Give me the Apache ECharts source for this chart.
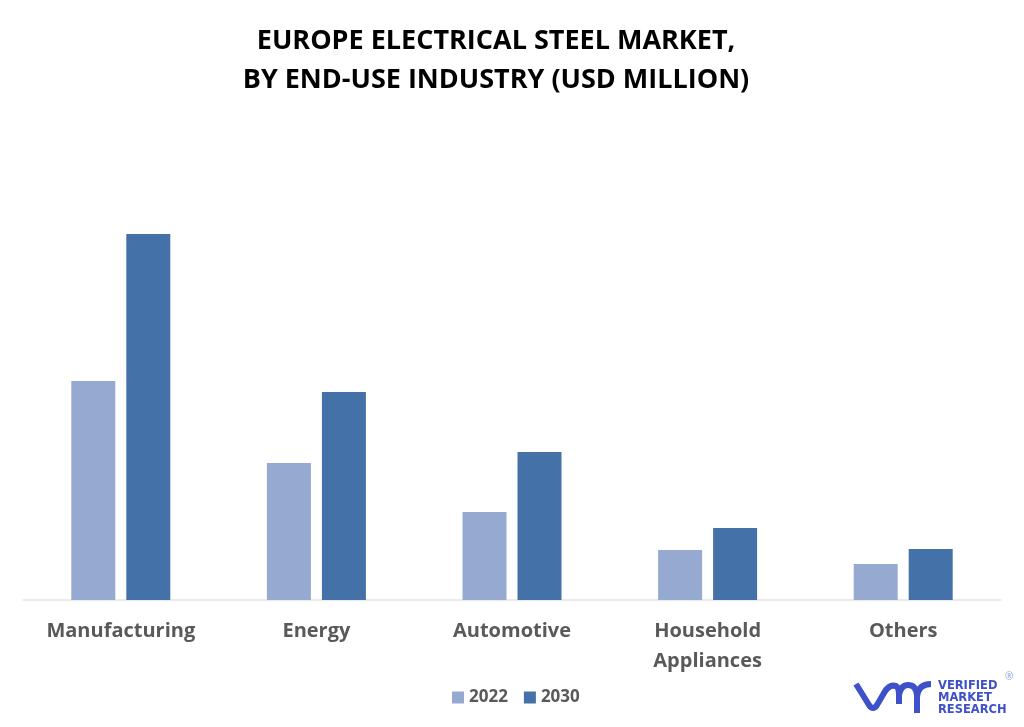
<!DOCTYPE html>
<html>
<head>
<meta charset="utf-8">
<style>
  html, body { margin: 0; padding: 0; background: #fff; }
  #chart { width: 1024px; height: 727px; }
</style>
<script src="https://cdn.jsdelivr.net/npm/echarts@6/dist/echarts.min.js"></script>
</head>
<body>
<div id="chart"></div>
<script>
// data
let categories = ["Manufacturing", "Energy", "Automotive", "Household\nAppliances", "Others"];
let values2022 = [219, 137, 88, 50, 36];
let values2030 = [366, 208, 148, 72, 51];
let seriesNames = ["2022", "2030"];

let font = "Open Sans";
let textColor = "#595959";
let logoColor = "#3f51c9";

// the vmr mark has no built-in graphic type, so register it as a shape
echarts.graphic.registerShape(
  "vmrLogo",
  echarts.graphic.extendPath(
    "M856 684 L869 705 Q873 711 877 705 L884 693 Q889 684 896 686 Q899 688 899 695 L899 704 M899 695 Q901 685 908 685 Q916 685 917 695 L917 713 M917 697 Q918 684 931 684"
  )
);

let myChart = echarts.init(document.querySelector("#chart"));

let option = {
  animation: false,
  backgroundColor: "#fff",
  title: {
    text: "EUROPE ELECTRICAL STEEL MARKET,\nBY END-USE INDUSTRY (USD MILLION)",
    left: 491,
    top: 17,
    textAlign: "center",
    textStyle: {
      fontFamily: font,
      fontSize: 27,
      fontWeight: "bold",
      color: "#000",
      lineHeight: 39,
    },
  },
  legend: {
    data: seriesNames,
    left: 447,
    top: 684,
    icon: "rect",
    itemWidth: 12,
    itemHeight: 12,
    itemGap: 16,
    textStyle: { fontFamily: font, fontSize: 17, fontWeight: "bold", color: textColor },
  },
  grid: { left: 23, top: 200, width: 978, height: 400 },
  xAxis: {
    type: "category",
    data: categories,
    axisTick: { show: false },
    axisLine: { lineStyle: { color: "#e3e3e3", width: 1.5 } },
    axisLabel: {
      fontFamily: font,
      fontSize: 20,
      fontWeight: "bold",
      color: textColor,
      margin: 16,
      lineHeight: 30,
      interval: 0,
    },
  },
  yAxis: { type: "value", min: 0, max: 400, show: false },
  series: [
    {
      name: seriesNames[0],
      type: "bar",
      data: values2022,
      barWidth: 44,
      barGap: "25%",
      itemStyle: { color: "#95a9d1" },
    },
    {
      name: seriesNames[1],
      type: "bar",
      data: values2030,
      barWidth: 44,
      itemStyle: { color: "#4472a8" },
    },
  ],
  // logo bottom right
  graphic: [
    {
      type: "vmrLogo",
      style: { fill: null, stroke: logoColor, lineWidth: 6 },
    },
    {
      type: "text",
      x: 938,
      y: 680,
      style: { text: "VERIFIED", font: "bold 11.5px 'DejaVu Sans'", fill: logoColor },
    },
    {
      type: "text",
      x: 938,
      y: 692,
      style: { text: "MARKET", font: "bold 11.5px 'DejaVu Sans'", fill: logoColor },
    },
    {
      type: "text",
      x: 938,
      y: 704,
      style: { text: "RESEARCH", font: "bold 11.5px 'DejaVu Sans'", fill: logoColor },
    },
    {
      type: "text",
      x: 1005,
      y: 672,
      style: { text: "®", font: "10px 'Open Sans'", fill: "#8f9be0" },
    },
  ],
};

myChart.setOption(option);
</script>
</body>
</html>
